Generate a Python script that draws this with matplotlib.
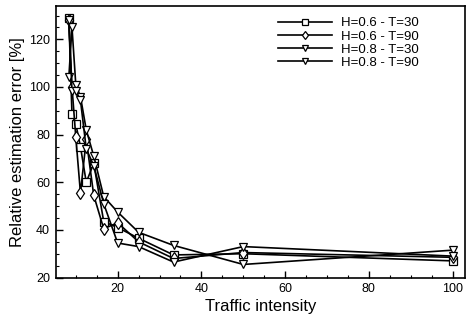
import numpy as np
import matplotlib
matplotlib.use('Agg')
import matplotlib.pyplot as plt
from matplotlib.ticker import MultipleLocator

plt.rcParams['font.family'] = ['Liberation Sans', 'DejaVu Sans']

# traffic intensity values (100/n)
traffic = [100 / 12, 100 / 11, 100 / 10, 100 / 9, 100 / 8, 100 / 7,
           100 / 6, 100 / 5, 100 / 4, 100 / 3, 100 / 2, 100]

h06_t30 = [129, 88.5, 84.5, 75, 60, 68, 43.5, 41, 36.5, 29.5, 30, 27]
h06_t90 = [128, 100, 79, 55.5, 78, 54.5, 40.5, 43, 35, 28, 30.5, 28.5]
h08_t30 = [104, 125, 101, 96, 82, 71, 54, 47.5, 39, 33.5, 25.5, 31.5]
h08_t90 = [128, 98.5, 98.5, 94.5, 74, 67, 51, 34.5, 33, 26.5, 33, 29]

series = [
    ('H=0.6 - T=30', h06_t30, 's'),
    ('H=0.6 - T=90', h06_t90, 'd'),
    ('H=0.8 - T=30', h08_t30, 'v'),
    ('H=0.8 - T=90', h08_t90, 'v'),
]

fig = plt.figure(figsize=(4.74, 3.34), dpi=100)
ax = fig.add_axes([0.1175, 0.169, 0.864, 0.813])

for name, vals, mk in series:
    ms = 6.5 if mk == 'd' else 6
    ax.plot(traffic, vals, color='black', linewidth=1.2, marker=mk,
            markersize=ms, markerfacecolor='white', markeredgecolor='black',
            markeredgewidth=0.9, label=name)

ax.set_xlim(5.2, 103)
ax.set_ylim(20, 134)
ax.xaxis.set_major_locator(MultipleLocator(20))
ax.xaxis.set_minor_locator(MultipleLocator(5))
ax.yaxis.set_major_locator(MultipleLocator(20))
ax.yaxis.set_minor_locator(MultipleLocator(5))
ax.tick_params(which='both', direction='in', labelsize=9, pad=4)
ax.tick_params(which='major', length=5, width=1)
ax.tick_params(which='minor', length=2.5, width=0.8)
for s in ax.spines.values():
    s.set_linewidth(1.2)

ax.set_xlabel('Traffic intensity', fontsize=12, labelpad=3)
ax.set_ylabel('Relative estimation error [%]', fontsize=12, labelpad=3)

ax.legend(loc='upper left', bbox_to_anchor=(278 / 474, 1 - 17 / 334),
          bbox_transform=fig.transFigure, frameon=False, fontsize=9.5,
          handlelength=4.1, handletextpad=0.7, labelspacing=0.08,
          borderpad=0, borderaxespad=0, markerscale=0.7)

fig.savefig('out.png', dpi=100)
